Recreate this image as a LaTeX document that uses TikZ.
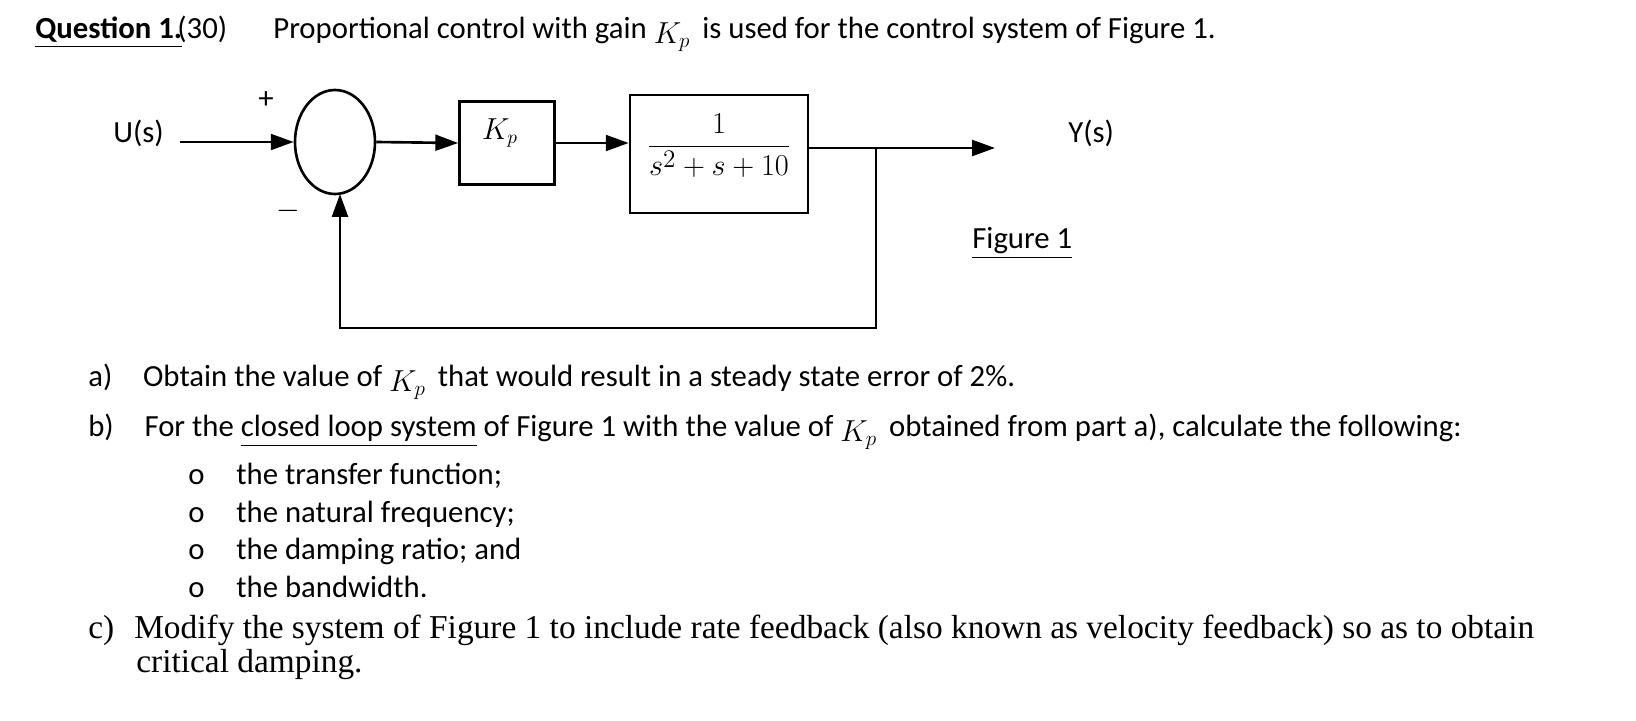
\documentclass[tikz,border=0pt]{standalone}
\usepackage{fontspec}
\setmainfont{Carlito}
\newfontfamily\serifc{Liberation Serif}
\usepackage{amsmath}
\usetikzlibrary{arrows.meta,shapes.geometric}
\begin{document}
\begin{tikzpicture}[x=0.02cm,y=-0.02cm,
  t/.style={anchor=base west,inner sep=0,font=\fontsize{17.5}{20}\selectfont},
  ln/.style={line width=1.5pt},
  ar/.style={ln,-{Triangle[length=13pt,width=9pt]}},
  blk/.style={draw,line width=1.5pt,inner sep=0}]
\useasboundingbox (0,0) rectangle (1636,720);
\node[t] (q) at (35,38) {\textbf{\underline{Question 1.}}};
\node[t] (q1) at (177,38) {(30)};
\node[t] (q2) at (273,38) {Proportional control with gain \raisebox{-3pt}{$K_p$}\, is used for the control system of Figure 1.};
\node[t] (u) at (113,142) {U(s)};
\node[t] (y) at (1068,142) {Y(s)};
\node[t] (plus) at (258,108) {+};
\node[t] (minus) at (276,218) {$-$};
\node[draw,ellipse,line width=1.5pt,minimum width=80*0.02cm,minimum height=104*0.02cm,inner sep=0] (sum) at (335,142) {};
\node[blk,minimum width=95*0.02cm,minimum height=83*0.02cm] (kp) at (507,143) {};
\node[font=\fontsize{16}{18}\selectfont] at (500,133) {$K_p$};
\node[blk,minimum width=178*0.02cm,minimum height=118*0.02cm] (g) at (719,154) {};
\node[font=\fontsize{19}{22}\selectfont] at (719,146) {$\dfrac{1}{s^2+s+10}$};
\coordinate (us) at (180,142);
\coordinate (out) at (995,148);
\coordinate (br) at (876,148);
\coordinate (sb) at (340,194);
\draw[ar] (us) -- (sum.west);
\draw[ar] (sum.east) -- (kp.west);
\draw[ar] (kp.east) -- (g.west |- kp.east);
\draw[ar] (g.east |- out) -- (out);
\draw[ar] (br) -- (876,328) -- (340,328) -- (sb);
\node[t] (f1) at (972,248) {\underline{Figure 1}};
\node[t] (a) at (88,386) {a)\hspace{1.0em}Obtain the value of \raisebox{-3pt}{$K_p$}\, that would result in a steady state error of 2\%.};
\node[t] (b) at (88,436) {b)\hspace{1.0em}For the \underline{closed loop system} of Figure 1 with the value of \raisebox{-3pt}{$K_p$}\, obtained from part a), calculate the following:};
\foreach \yy/\tx in {484/the transfer function;,522/the natural frequency;,559/the damping ratio; and,597/the bandwidth.}
  {\node[t] at (188,\yy) {o}; \node[t] at (236,\yy) {\tx};}
\node[t,font=\fontsize{19}{22}\serifc] (c) at (88,638) {c)\hspace{0.6em}Modify the system of Figure 1 to include rate feedback (also known as velocity feedback) so as to obtain};
\node[t,font=\fontsize{19}{22}\serifc] (c2) at (136,672) {critical damping.};
\end{tikzpicture}
\end{document}
